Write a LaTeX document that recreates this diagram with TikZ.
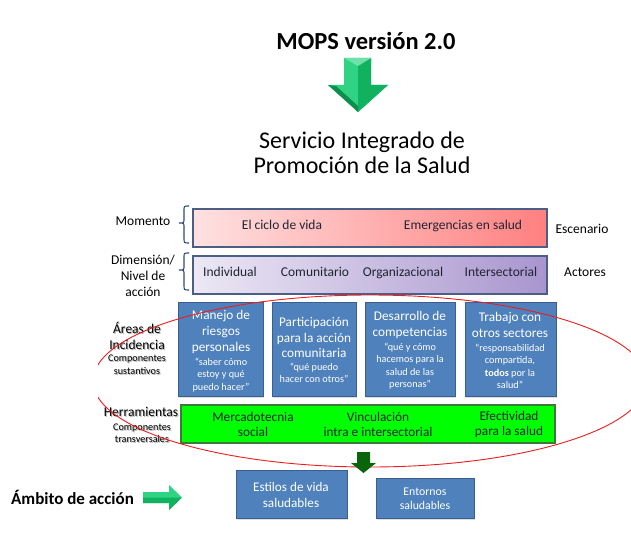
\documentclass[tikz,border=0pt]{standalone}
\usepackage{fontspec}
\setmainfont{Carlito}
\usetikzlibrary{shadows}
\definecolor{boxblue}{HTML}{4F81BD}
\definecolor{boxblueline}{HTML}{3A5F8F}
\definecolor{framegray}{HTML}{4A5E86}
\definecolor{bracecol}{HTML}{2E4A77}
\definecolor{pinkL}{HTML}{FFE1E1}
\definecolor{pinkR}{HTML}{FF8080}
\definecolor{lilaL}{HTML}{ECE8F4}
\definecolor{lilaR}{HTML}{A995CF}
\definecolor{lime}{HTML}{00FF00}
\definecolor{limeline}{HTML}{3A7A3A}
\definecolor{darktext}{HTML}{1E2533}
\definecolor{arrowL}{HTML}{2ED484}
\definecolor{arrowR}{HTML}{10B260}
\definecolor{arrowdark}{HTML}{0A640A}
\definecolor{ellred}{HTML}{EE1C1C}
\tikzset{
  fixh/.style={text height=10pt, text depth=2pt},
  lbl/.style={font=\fontsize{13.5}{16}\selectfont, align=center, inner sep=0, text=black},
  lblsmall/.style={font=\fontsize{10.2}{12.5}\selectfont, align=center, inner sep=0, text=black},
  lblshadow/.style={text=black!30},
  bandbox/.style={draw=framegray, line width=1.1, inner sep=0, minimum width=354, minimum height=38},
  bandtext/.style={font=\fontsize{13.5}{16}\selectfont, inner sep=0, text=darktext, fixh},
  bluebox/.style={draw=boxblueline, fill=boxblue, line width=0.9, inner sep=0, minimum height=94,
    drop shadow={opacity=0.25, shadow xshift=1pt, shadow yshift=-1.5pt}},
  btitle/.style={font=\fontsize{13.3}{15.6}\selectfont, align=center, inner sep=0, text=white},
  bsub/.style={font=\fontsize{10.2}{12.3}\selectfont, align=center, inner sep=0, text=white},
  greentext/.style={font=\fontsize{13.3}{15.5}\selectfont, align=center, inner sep=0, text=darktext},
  bracepath/.style={draw=bracecol, line width=1.1},
}
\begin{document}
\begin{tikzpicture}[x=1pt,y=-1pt]
\useasboundingbox (0,0) rectangle (631,540);

% title
\node[font=\fontsize{24.5}{28}\selectfont\bfseries, inner sep=0] (title) at (366,41) {MOPS versión 2.0};

% big green down arrow
\fill[arrowL] (344,58) -- (371,58) -- (371,85) -- (388,85) -- (358,112) -- (328,85) -- (344,85) -- cycle;
\fill[arrowR] (358,66) -- (371,58) -- (371,85) -- (388,85) -- (358,112) -- cycle;
\fill[arrowL!70!white] (344,58) -- (371,58) -- (358,66) -- cycle;
\fill[arrowR!80!black] (328,85) -- (358,112) -- (358,106) -- (336,86) -- cycle;

\node[font=\fontsize{24}{25}\selectfont, align=center, inner sep=0] (srv) at (362,153) {Servicio Integrado de\\Promoción de la Salud};

% bands
\node[bandbox, left color=pinkL, right color=pinkR] (mom) at (370,228) {};
\node[bandtext] (mom1) at (282,225) {El ciclo de vida};
\node[bandtext] (mom2) at (463,225) {Emergencias en salud};

\node[bandbox, left color=lilaL, right color=lilaR] (dim) at (370,275) {};
\node[bandtext] (dim1) at (230,272) {Individual};
\node[bandtext] (dim2) at (315,272) {Comunitario};
\node[bandtext] (dim3) at (403,272) {Organizacional};
\node[bandtext] (dim4) at (501,272) {Intersectorial};

\node[lbl, fixh] (esc) at (582,229) {Escenario};
\node[lbl, fixh] (act) at (585,272) {Actores};

% left labels
\node[lbl, fixh] (moml) at (143,221) {Momento};
\node[lbl] (diml) at (143,276) {Dimensión/\\Nivel de\\acción};
\draw[bracepath] (189,206) .. controls (184,206) .. (184,210) -- (184,219) .. controls (184,223) .. (179,223) .. controls (184,223) .. (184,227) -- (184,238) .. controls (184,243) .. (189,243);
\draw[bracepath] (189,253) .. controls (184,253) .. (184,257) -- (184,266) .. controls (184,270) .. (179,270) .. controls (184,270) .. (184,274) -- (184,285) .. controls (184,290) .. (189,290);

\node[lbl, lblshadow] (areasS) at (138,336.5) {Áreas de\\Incidencia};
\node[lbl] (areas) at (137,335.5) {Áreas de\\Incidencia};
\node[lblsmall, lblshadow] (compS) at (138,365.5) {Componentes\\sustantivos};
\node[lblsmall] (comp) at (137,364.5) {Componentes\\sustantivos};
\node[lbl, fixh, lblshadow] (herS) at (142,413) {Herramientas};
\node[lbl, fixh] (her) at (141,412) {Herramientas};
\node[lblsmall, lblshadow] (comp2S) at (143,434) {Componentes\\transversales};
\node[lblsmall] (comp2) at (142,433) {Componentes\\transversales};

% blue boxes
\node[bluebox, minimum width=85] (b1) at (220.5,349) {};
\node[bluebox, minimum width=84] (b2) at (314,349) {};
\node[bluebox, minimum width=90] (b3) at (410,349) {};
\node[bluebox, minimum width=91] (b4) at (510.5,349) {};

\node[btitle] (b1t) at (221,332) {Manejo de\\riesgos\\personales};
\node[bsub] (b1s) at (221,375) {“saber cómo\\estoy y qué\\puedo hacer”};
\node[btitle] (b2t) at (314,337.5) {Participación\\para la acción\\comunitaria};
\node[bsub] (b2s) at (314,373) {“qué puedo\\hacer con otros”};
\node[btitle] (b3t) at (410,325) {Desarrollo de\\competencias};
\node[bsub] (b3s) at (410,366) {“qué y cómo\\hacemos para la\\salud de las\\personas”};
\node[btitle] (b4t) at (510,325) {Trabajo con\\otros sectores};
\node[bsub] (b4s) at (510,366.5) {“responsabilidad\\compartida,\\\textbf{todos} por la\\salud”};

% green band
\node[draw=limeline, fill=lime, line width=1.1, inner sep=0, minimum width=374, minimum height=38] (gr) at (368,424) {};
\node[greentext] (g1) at (253,424.5) {Mercadotecnia\\social};
\node[greentext] (g2) at (378,424.5) {Vinculación\\intra e intersectorial};
\node[greentext] (g3) at (509,424.5) {Efectividad\\para la salud};

% red ellipse
\begin{scope}
\clip (98,0) rectangle (631,540);
\draw[ellred, line width=0.9] (370,381) ellipse [x radius=277, y radius=86];
\end{scope}

% small dark arrow
\fill[arrowdark] (357,452) -- (370,452) -- (370,463) -- (376,463) -- (363.5,473) -- (351,463) -- (357,463) -- cycle;

% bottom boxes
\node[draw=boxblueline, fill=boxblue, line width=0.9, inner sep=0, minimum width=111, minimum height=48,
  drop shadow={opacity=0.25, shadow xshift=1pt, shadow yshift=-1.5pt}] (est) at (291.5,494) {};
\node[font=\fontsize{13.2}{16}\selectfont, align=center, inner sep=0, text=white] (estt) at (291,495) {Estilos de vida\\saludables};
\node[draw=boxblueline, fill=boxblue, line width=0.9, inner sep=0, minimum width=98, minimum height=40,
  drop shadow={opacity=0.25, shadow xshift=1pt, shadow yshift=-1.5pt}] (ent) at (425,498) {};
\node[font=\fontsize{11.8}{14}\selectfont, align=center, inner sep=0, text=white] (entt) at (425,499) {Entornos\\saludables};

% ambito
\node[font=\fontsize{17}{20}\selectfont\bfseries, inner sep=0] (amb) at (72.5,497) {Ámbito de acción};
\fill[arrowL] (143,492) -- (169,492) -- (169,485) -- (182,497.5) -- (169,510) -- (169,503) -- (143,503) -- cycle;
\fill[arrowR] (143,497.5) -- (182,497.5) -- (169,510) -- (169,503) -- (143,503) -- cycle;
\end{tikzpicture}
\end{document}
